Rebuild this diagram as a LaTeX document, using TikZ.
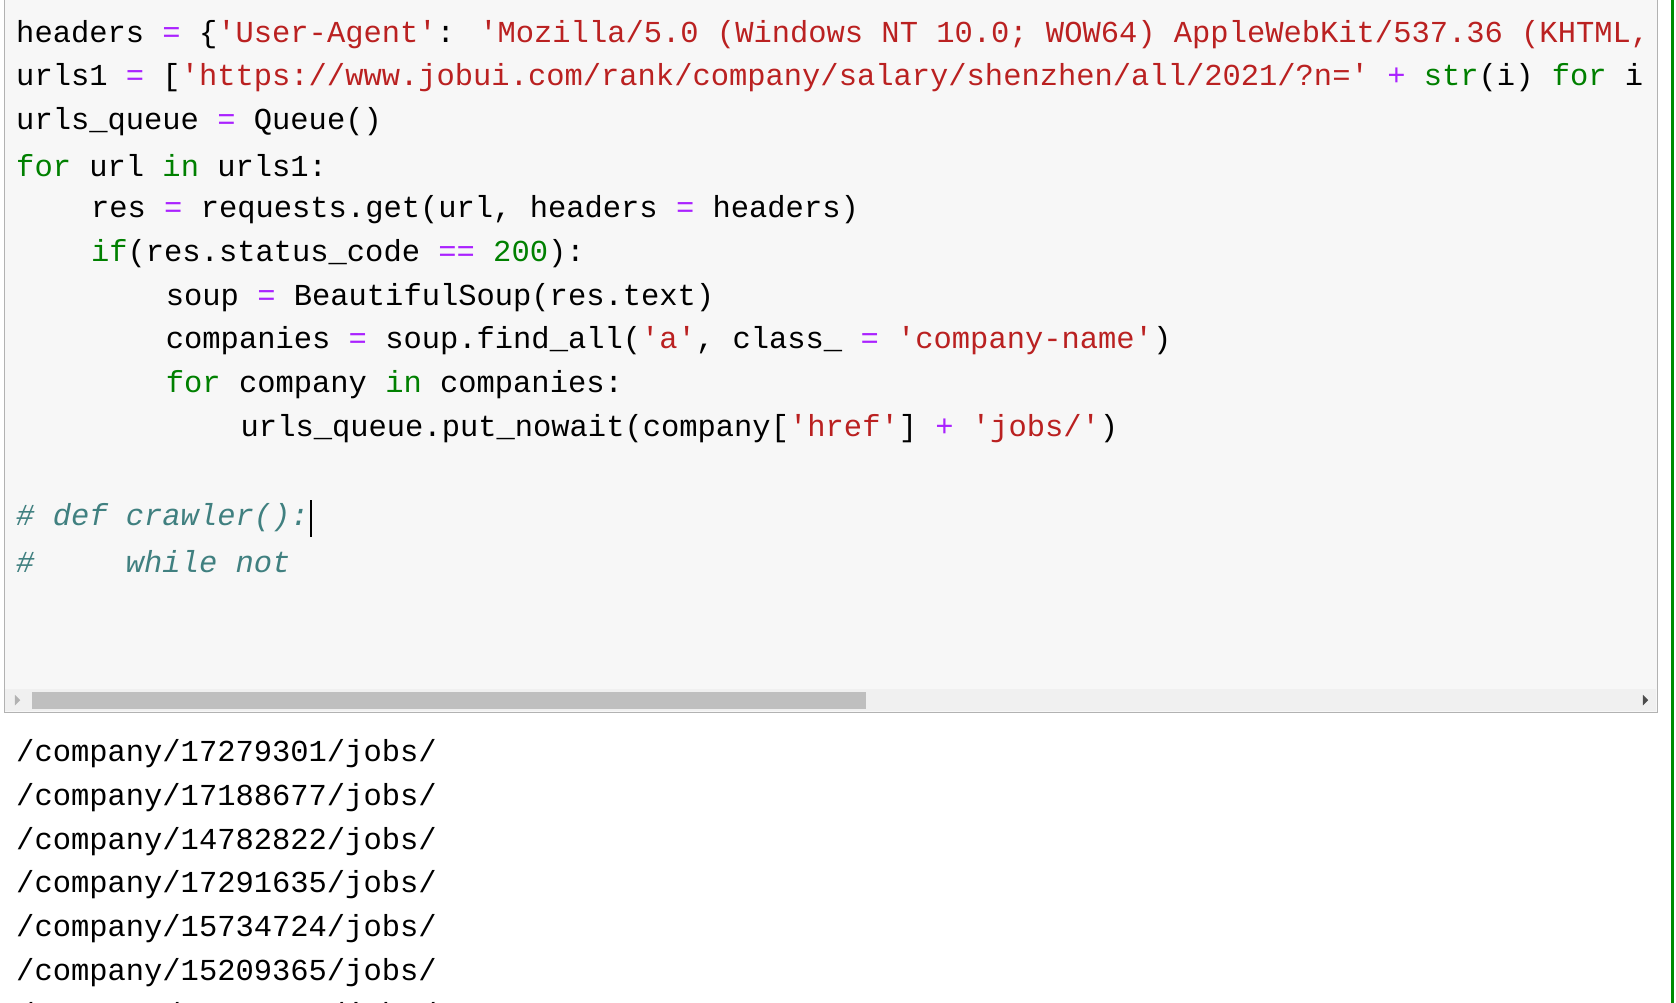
\documentclass[tikz,border=0pt]{standalone}
\usepackage{fontspec}
\newfontfamily\codefont{Liberation Mono}
\definecolor{kwc}{HTML}{008000}
\definecolor{opc}{HTML}{AA22FF}
\definecolor{strc}{HTML}{BA2121}
\definecolor{cmc}{HTML}{408080}
\definecolor{bgc}{HTML}{F7F7F7}
\newcommand\kw[1]{\textcolor{kwc}{#1}}
\newcommand\op[1]{\textcolor{opc}{#1}}
\newcommand\st[1]{\textcolor{strc}{#1}}
\newcommand\cm[1]{\textcolor{cmc}{\itshape #1}}
\tikzset{codeline/.style={anchor=west,inner sep=0pt,font=\codefont\fontsize{28.5}{34}\selectfont}}
\begin{document}
\begin{tikzpicture}[x=1pt,y=-1pt]
\useasboundingbox (0,0) rectangle (1568,938);
\fill[white] (0,0) rectangle (1568,938);
\draw[fill=bgc,draw=gray!60] (4,-2) rectangle (1550,666);
\fill[gray!12] (5,645) rectangle (1549,665);
\fill[gray!50] (30,647) rectangle (810,663);
\fill[gray!60] (14,650) -- (19,655) -- (14,660) -- cycle;
\fill[black!70] (1537,650) -- (1542,655) -- (1537,660) -- cycle;
\fill[green!55!black] (1563,0) rectangle (1566,938);
\node[codeline] (l1) at (15,32) {headers \op{=} \{\st{'User-Agent'}: \st{'Mozilla/5.0 (Windows NT 10.0; WOW64) AppleWebKit/537.36 (KHTML,}};
\node[codeline] (l2) at (15,73) {urls1 \op{=} [\st{'https://www.jobui.com/rank/company/salary/shenzhen/all/2021/?n='} \op{+} \kw{str}(i) \kw{for} i};
\node[codeline] (l3) at (15,114) {urls\_queue \op{=} Queue()};
\node[codeline] (l4) at (15,155) {\kw{for} url \kw{in} urls1:};
\node[codeline] (l5) at (85,196) {res \op{=} requests.get(url, headers \op{=} headers)};
\node[codeline] (l6) at (85,237) {\kw{if}(res.status\_code \op{==} \kw{200}):};
\node[codeline] (l7) at (155,278) {soup \op{=} BeautifulSoup(res.text)};
\node[codeline] (l8) at (155,319) {companies \op{=} soup.find\_all(\st{'a'}, class\_ \op{=} \st{'company-name'})};
\node[codeline] (l9) at (155,360) {\kw{for} company \kw{in} companies:};
\node[codeline] (l10) at (225,401) {urls\_queue.put\_nowait(company[\st{'href'}] \op{+} \st{'jobs/'})};
\node[codeline] (l11) at (15,484) {\cm{\# def crawler():}};
\node[codeline] (l12) at (15,525) {\cm{\#~~~~~while not}};
\draw[line width=1.5pt] (291,468) -- (291,502);
\begin{scope}
\clip (0,670) rectangle (1560,938);
\foreach \n [count=\i] in {17279301,17188677,14782822,17291635,15734724,15209365,15209300}{
  \node[codeline] (o\i) at (15,{705+41*(\i-1)}) {/company/\n/jobs/};
}
\end{scope}
\end{tikzpicture}
\end{document}
